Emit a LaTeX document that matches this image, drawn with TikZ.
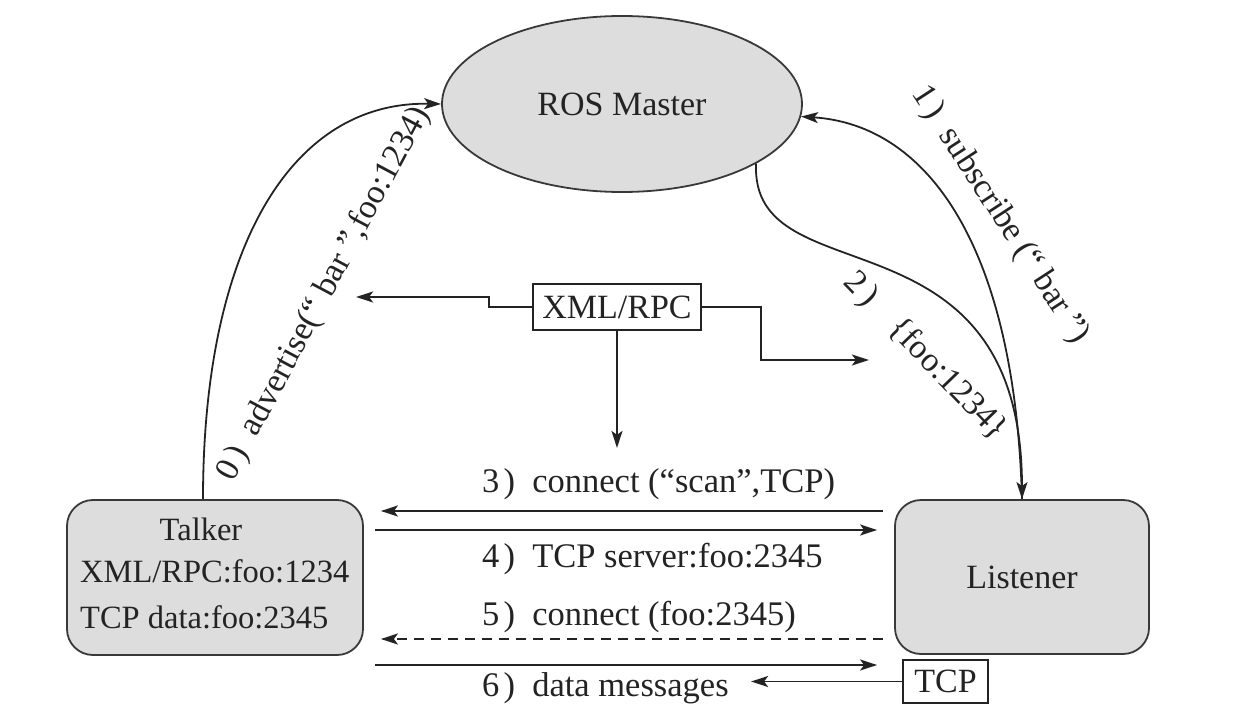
\documentclass[tikz,border=0pt]{standalone}
\usepackage{fontspec}
\setmainfont{Liberation Serif}
\usetikzlibrary{arrows.meta,calc,shapes.geometric}
\definecolor{boxfill}{RGB}{221,221,221}
\definecolor{ink}{RGB}{35,35,35}
\tikzset{
  every node/.style={font=\fontsize{34}{40}\selectfont, inner sep=0pt, text=ink},
  midlabel/.style={anchor=base west, font=\fontsize{34.5}{40}\selectfont},
  arr/.style={line width=1.8pt, draw=ink, -{Stealth[length=17pt,width=11pt,inset=4pt]}},
  graybox/.style={draw=ink!90, line width=1.8pt, fill=boxfill, rounded corners=26pt},
  plainbox/.style={draw=ink, line width=1.8pt, fill=white},
  talkertext/.style={font=\fontsize{32.5}{38}\selectfont},
}
\begin{document}
\begin{tikzpicture}[x=1pt,y=-1pt]
\useasboundingbox (0,0) rectangle (1235,706);

% nodes
\node[ellipse, draw=ink!90, line width=1.8pt, fill=boxfill, minimum width=360pt, minimum height=176pt] (master) at (622,104) {ROS Master};
\node[graybox, minimum width=296pt, minimum height=155pt] (talker) at (215,577.5) {};
\node[talkertext, anchor=base] (ttitle) at (201,540) {Talker};
\node[talkertext, anchor=base west] (tline1) at (80,582) {XML/RPC:foo:1234};
\node[talkertext, anchor=base west] (tline2) at (80,628) {TCP data:foo:2345};
\node[graybox, minimum width=254pt, minimum height=154pt] (listener) at (1022,577) {Listener};
\node[plainbox, minimum width=168pt, minimum height=46pt] (xml) at (617,307) {XML/RPC};
\node[plainbox, minimum width=85pt, minimum height=43pt] (tcp) at (945.5,681.5) {TCP};

% curved connectors
\draw[arr] ([xshift=-12pt]talker.north) .. controls (203,250) and (290,101) .. (master.west);
\draw[arr] (listener.north) .. controls (1015,250) and (930,125) .. (master.-4);
\draw[arr] (master.-24) .. controls (750,300) and (1022,200) .. (listener.north);

% XML/RPC connectors
\draw[arr] (xml.west) -- ++(-43,0) -- ++(0,-10) -- ++(-133,0);
\draw[arr] (xml.east) -- ++(59,0) -- ++(0,53) -- ++(108,0);
\draw[arr] (xml.south) -- ++(0,117);

% horizontal connectors
\draw[arr] ($(listener.west |- 0,511)+(-11,0)$) -- ($(talker.east |- 0,511)+(17,0)$);
\draw[arr] ($(talker.east |- 0,530)+(11,0)$) -- ($(listener.west |- 0,530)+(-17,0)$);
\draw[arr, dash pattern=on 10pt off 7pt] ($(listener.west |- 0,639)+(-11,0)$) -- ($(talker.east |- 0,639)+(17,0)$);
\draw[arr] ($(talker.east |- 0,665)+(11,0)$) -- ($(listener.west |- 0,665)+(-17,0)$);
\draw[arr] (tcp.west) -- ++(-151,0);

% labels
\node[midlabel] (l3) at (482,492) {3\hspace{0.12em})\hspace{0.5em}connect (“scan”,TCP)};
\node[midlabel] (l4) at (482,567) {4\hspace{0.12em})\hspace{0.5em}TCP server:foo:2345};
\node[midlabel] (l5) at (482,625) {5\hspace{0.12em})\hspace{0.5em}connect (foo:2345)};
\node[midlabel] (l6) at (482,696) {6\hspace{0.12em})\hspace{0.5em}data messages};

\node[rotate=62] (l0) at (324,294) {0\hspace{0.15em})\hspace{0.5em}advertise(“ bar ”,foo:1234)};
\node[rotate=-57] (l1) at (1000,215) {1\hspace{0.15em})\hspace{0.5em}subscribe (“ bar ”)};
\node[rotate=-46] (l2) at (925,357) {2\hspace{0.15em})\hspace{0.9em}\{foo:1234\}};
\end{tikzpicture}
\end{document}
